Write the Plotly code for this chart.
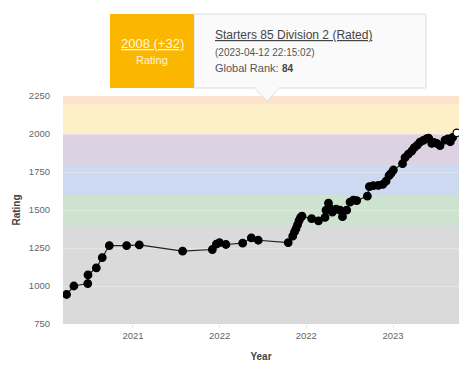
import plotly.graph_objects as go

# ---------------- data ----------------
years = [2020.364, 2020.423, 2020.535, 2020.537, 2020.604, 2020.652, 2020.709, 2020.849, 2020.951,
         2021.301, 2021.541, 2021.574, 2021.599, 2021.651, 2021.786, 2021.856, 2021.912,
         2022.154, 2022.190, 2022.205, 2022.217, 2022.229, 2022.241, 2022.253, 2022.265,
         2022.343, 2022.398, 2022.451, 2022.459, 2022.479, 2022.491, 2022.510, 2022.540,
         2022.572, 2022.592, 2022.626, 2022.653, 2022.680, 2022.707, 2022.793, 2022.809,
         2022.841, 2022.881, 2022.917, 2022.944, 2022.968, 2022.984, 2023.003, 2023.077,
         2023.097, 2023.124, 2023.151, 2023.172, 2023.196, 2023.218, 2023.245, 2023.272,
         2023.289, 2023.313, 2023.331, 2023.353, 2023.380, 2023.420, 2023.442, 2023.463,
         2023.482, 2023.515]
ratings = [944, 1000, 1016, 1073, 1119, 1187, 1266, 1266, 1270,
           1229, 1240, 1275, 1285, 1273, 1282, 1317, 1301,
           1286, 1328, 1357, 1377, 1403, 1430, 1450, 1460,
           1443, 1429, 1451, 1499, 1545, 1509, 1486, 1506,
           1499, 1456, 1499, 1552, 1565, 1562, 1591, 1654,
           1660, 1662, 1668, 1690, 1726, 1741, 1763, 1805,
           1845, 1868, 1888, 1911, 1927, 1947, 1958, 1969,
           1972, 1938, 1944, 1938, 1924, 1960, 1967, 1949,
           1978, 2008]

x_tick_vals = [2020.9, 2021.6, 2022.3, 2023.0]
x_tick_text = ["2021", "2022", "2022", "2023"]
y_tick_vals = [750, 1000, 1250, 1500, 1750, 2000, 2250]

band_edges = [750, 1400, 1600, 1800, 2000, 2200, 2250]
band_colors = ["#dadada", "#cde3cf", "#cdd9f0", "#dcd2e1", "#fdf0c9", "#fde3cd"]

tip_rating = "2008 (+32)"
tip_contest = "Starters 85 Division 2 (Rated)"
tip_time = "(2023-04-12 22:15:02)"
tip_rank = "84"

# ---------------- figure ----------------
# page body has an 8px margin, so the figure is drawn 8px in from the window edge
OFF = 8
W, H = 474 - OFF, 383 - OFF
ML, MR, MT, MB = 63 - OFF, 15, 96 - OFF, 59
PW, PH = W - ML - MR, H - MT - MB


def px(x):  # window pixel -> paper
    return (x - OFF - ML) / PW


def py(y):
    return (H - MB - (y - OFF)) / PH


fig = go.Figure()

marker_colors = ["black"] * (len(ratings) - 1) + ["white"]
fig.add_trace(go.Scatter(
    x=years, y=ratings, mode="lines+markers",
    line=dict(color="#222222", width=1.2),
    marker=dict(size=7.5, color=marker_colors, line=dict(color="black", width=1.3)),
    hoverinfo="skip", showlegend=False,
))

shapes = []
for i, c in enumerate(band_colors):
    shapes.append(dict(type="rect", xref="x domain", yref="y", x0=0, x1=1,
                       y0=band_edges[i], y1=band_edges[i + 1],
                       fillcolor=c, line=dict(width=0), layer="below"))

# tooltip
x_l, x_m, x_r, y_t, y_b = 110, 194, 426, 14, 88
shapes.append(dict(type="rect", xref="paper", yref="paper",
                   x0=px(x_m), x1=px(x_r), y0=py(y_b), y1=py(y_t),
                   fillcolor="#fafafa", line=dict(color="#dddddd", width=1)))
shapes.append(dict(type="rect", xref="paper", yref="paper",
                   x0=px(x_l), x1=px(x_m), y0=py(y_b), y1=py(y_t),
                   fillcolor="#fbb700", line=dict(width=0)))
shapes.append(dict(type="path", xref="paper", yref="paper",
                   path=f"M {px(254)} {py(87.5)} L {px(267)} {py(101)} L {px(280)} {py(87.5)} Z",
                   fillcolor="#fafafa", line=dict(color="#dddddd", width=1)))
shapes.append(dict(type="line", xref="paper", yref="paper",
                   x0=px(254.8), x1=px(279.2), y0=py(88), y1=py(88),
                   line=dict(color="#fafafa", width=2)))

font = "Liberation Sans, Arial, sans-serif"
ann = [
    dict(x=px(152), y=py(43), text=f"<u>{tip_rating}</u>", xanchor="center", yanchor="middle",
         font=dict(size=13, color="#fff8e0", family=font)),
    dict(x=px(152), y=py(60), text="Rating", xanchor="center", yanchor="middle",
         font=dict(size=11, color="#fff4d6", family=font)),
    dict(x=px(213), y=py(34.5), text=f"<u>{tip_contest}</u>", xanchor="left", yanchor="middle",
         font=dict(size=12, color="#444444", family=font)),
    dict(x=px(213), y=py(52), text=tip_time, xanchor="left", yanchor="middle",
         font=dict(size=10, color="#555555", family=font)),
    dict(x=px(213), y=py(68), text="Global Rank:", xanchor="left", yanchor="middle",
         font=dict(size=11, color="#555555", family=font)),
    dict(x=px(280), y=py(68), text=f"<b>{tip_rank}</b>", xanchor="left", yanchor="middle",
         font=dict(size=10, color="#444444", family=font)),
]
for a in ann:
    a.update(xref="paper", yref="paper", showarrow=False)

fig.update_layout(
    width=W, height=H,
    margin=dict(l=ML, r=MR, t=MT, b=MB, pad=0, autoexpand=False),
    paper_bgcolor="white", plot_bgcolor="#dadada",
    font=dict(family=font, color="#666666", size=10),
    shapes=shapes, annotations=ann,
    xaxis=dict(range=[2020.335, 2023.533], tickvals=x_tick_vals, ticktext=x_tick_text,
               showgrid=False, zeroline=False, ticks="outside", ticklen=3,
               tickcolor="#e6e6e6", showline=False, automargin=False,
               tickfont=dict(size=9.5, color="#666666"),
               title=dict(text="<b>Year</b>", font=dict(size=10, color="#444444"), standoff=12)),
    yaxis=dict(range=[750, 2250], tickvals=y_tick_vals,
               showgrid=True, gridcolor="rgba(255,255,255,0.3)", gridwidth=1,
               zeroline=False, showline=False, ticks="", ticklabelstandoff=12,
               automargin=False,
               tickfont=dict(size=9.5, color="#666666"),
               title=dict(text="<b>Rating</b>", font=dict(size=10, color="#444444"), standoff=6)),
)

fig.write_html("out.html")
